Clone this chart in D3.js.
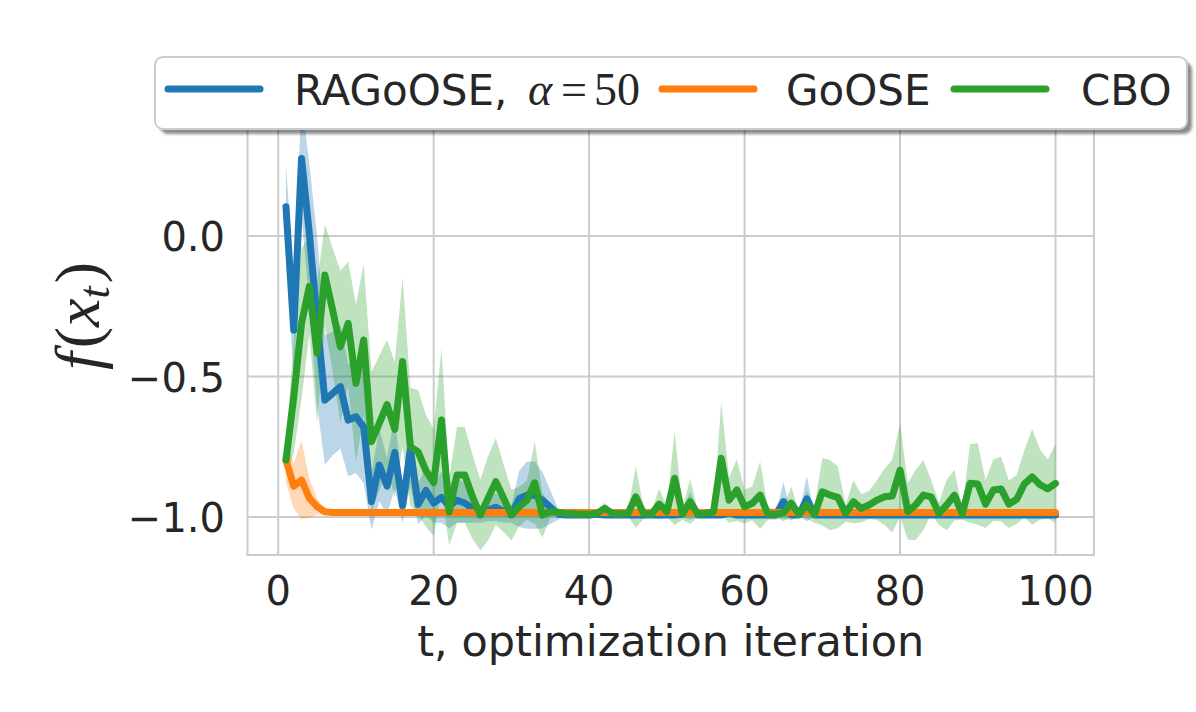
<!DOCTYPE html>
<html>
<head>
<meta charset="utf-8">
<script src="https://cdn.jsdelivr.net/npm/d3@7"></script>
<style>
    body { margin: 0; background: #fff; }
    text { font-family: 'DejaVu Sans', sans-serif; fill: #262626; }
    .math { font-family: 'Liberation Serif', serif; }
</style>
</head>
<body>
<div id="chart"></div>
<script>
const iterations = d3.range(1, 101)

const ragooseMean = [
    0.104, -0.335, 0.276, 0.01, -0.3, -0.584, -0.56, -0.536, -0.655, -0.643,
    -0.68, -0.945, -0.815, -0.89, -0.77, -0.96, -0.76, -0.955, -0.905, -0.95,
    -0.93, -0.96, -0.94, -0.95, -0.97, -0.99, -0.975, -0.965, -0.98, -0.99,
    -0.935, -0.922, -0.922, -0.94, -0.965, -0.99, -0.993, -0.993, -0.993, -0.993,
    -0.99, -0.993, -0.993, -0.993, -0.993, -0.993, -0.993, -0.993, -0.993, -0.993,
    -0.993, -0.99, -0.96, -0.993, -0.993, -0.993, -0.993, -0.985, -0.993, -0.993,
    -0.993, -0.993, -0.993, -0.993, -0.945, -0.993, -0.993, -0.935, -0.993, -0.993,
    -0.993, -0.993, -0.993, -0.993, -0.993, -0.993, -0.993, -0.993, -0.993, -0.993,
    -0.993, -0.993, -0.993, -0.993, -0.993, -0.993, -0.993, -0.993, -0.993, -0.993,
    -0.993, -0.993, -0.993, -0.993, -0.993, -0.993, -0.993, -0.993, -0.993, -0.993
]
const ragooseSpread = [
    0.15, 0.18, 0.2, 0.25, 0.3, 0.23, 0.22, 0.22, 0.2, 0.2,
    0.2, 0.1, 0.13, 0.1, 0.13, 0.06, 0.13, 0.07, 0.09, 0.07,
    0.09, 0.08, 0.08, 0.07, 0.05, 0.03, 0.04, 0.05, 0.04, 0.03,
    0.1, 0.12, 0.12, 0.1, 0.06, 0.02, 0.005, 0.005, 0.005, 0.005,
    0.01, 0.005, 0.005, 0.005, 0.005, 0.005, 0.005, 0.005, 0.005, 0.005,
    0.005, 0.01, 0.05, 0.005, 0.005, 0.005, 0.005, 0.01, 0.005, 0.005,
    0.005, 0.005, 0.005, 0.005, 0.07, 0.005, 0.005, 0.08, 0.005, 0.005,
    0.005, 0.005, 0.005, 0.005, 0.005, 0.005, 0.005, 0.005, 0.005, 0.005,
    0.005, 0.005, 0.005, 0.005, 0.005, 0.005, 0.005, 0.005, 0.005, 0.005,
    0.005, 0.005, 0.005, 0.005, 0.005, 0.005, 0.005, 0.005, 0.005, 0.005
]

const gooseMean = [
    -0.797, -0.89, -0.868, -0.933, -0.963, -0.981, -0.984, -0.984, -0.984, -0.984,
    -0.984, -0.984, -0.984, -0.984, -0.984, -0.984, -0.984, -0.984, -0.984, -0.984,
    -0.984, -0.984, -0.984, -0.984, -0.984, -0.984, -0.984, -0.984, -0.984, -0.984,
    -0.984, -0.984, -0.984, -0.984, -0.984, -0.984, -0.984, -0.984, -0.984, -0.984,
    -0.984, -0.984, -0.984, -0.984, -0.984, -0.984, -0.984, -0.984, -0.984, -0.984,
    -0.984, -0.984, -0.984, -0.984, -0.984, -0.984, -0.984, -0.984, -0.984, -0.984,
    -0.984, -0.984, -0.984, -0.984, -0.984, -0.984, -0.984, -0.984, -0.984, -0.984,
    -0.984, -0.984, -0.984, -0.984, -0.984, -0.984, -0.984, -0.984, -0.984, -0.984,
    -0.984, -0.984, -0.984, -0.984, -0.984, -0.984, -0.984, -0.984, -0.984, -0.984,
    -0.984, -0.984, -0.984, -0.984, -0.984, -0.984, -0.984, -0.984, -0.984, -0.984
]
const gooseSpread = [
    0.08, 0.08, 0.14, 0.07, 0.03, 0.01, 0.004, 0.004, 0.004, 0.004,
    0.004, 0.004, 0.004, 0.004, 0.004, 0.004, 0.004, 0.004, 0.004, 0.004,
    0.004, 0.004, 0.004, 0.004, 0.004, 0.004, 0.004, 0.004, 0.004, 0.004,
    0.004, 0.004, 0.004, 0.004, 0.004, 0.004, 0.004, 0.004, 0.004, 0.004,
    0.004, 0.004, 0.004, 0.004, 0.004, 0.004, 0.004, 0.004, 0.004, 0.004,
    0.004, 0.004, 0.004, 0.004, 0.004, 0.004, 0.004, 0.004, 0.004, 0.004,
    0.004, 0.004, 0.004, 0.004, 0.004, 0.004, 0.004, 0.004, 0.004, 0.004,
    0.004, 0.004, 0.004, 0.004, 0.004, 0.004, 0.004, 0.004, 0.004, 0.004,
    0.004, 0.004, 0.004, 0.004, 0.004, 0.004, 0.004, 0.004, 0.004, 0.004,
    0.004, 0.004, 0.004, 0.004, 0.004, 0.004, 0.004, 0.004, 0.004, 0.004
]

const cboMean = [
    -0.797, -0.572, -0.311, -0.18, -0.417, -0.139, -0.263, -0.394, -0.311, -0.524,
    -0.37, -0.732, -0.667, -0.6, -0.688, -0.447, -0.75, -0.768, -0.835, -0.877,
    -0.655, -0.981, -0.85, -0.85, -0.928, -0.993, -0.933, -0.874, -0.933, -0.993,
    -0.963, -0.94, -0.878, -0.993, -0.981, -0.983, -0.987, -0.988, -0.99, -0.99,
    -0.987, -0.969, -0.987, -0.988, -0.987, -0.928, -0.987, -0.99, -0.954, -0.981,
    -0.862, -0.99, -0.945, -0.99, -0.987, -0.981, -0.791, -0.94, -0.904, -0.963,
    -0.951, -0.922, -0.99, -0.99, -0.985, -0.951, -0.99, -0.957, -0.99, -0.91,
    -0.922, -0.93, -0.987, -0.945, -0.969, -0.957, -0.94, -0.928, -0.925, -0.833,
    -0.981, -0.957, -0.922, -0.928, -0.987, -0.957, -0.922, -0.99, -0.88, -0.882,
    -0.954, -0.904, -0.9, -0.954, -0.937, -0.882, -0.857, -0.885, -0.9, -0.88
]
const cboSpread = [
    0.05, 0.2, 0.27, 0.17, 0.25, 0.18, 0.22, 0.27, 0.22, 0.28,
    0.27, 0.25, 0.24, 0.23, 0.24, 0.3, 0.21, 0.22, 0.2, 0.19,
    0.255, 0.12, 0.17, 0.17, 0.15, 0.125, 0.15, 0.154, 0.12, 0.09,
    0.07, 0.07, 0.146, 0.08, 0.02, 0.01, 0.01, 0.01, 0.01, 0.01,
    0.01, 0.02, 0.01, 0.01, 0.01, 0.11, 0.02, 0.01, 0.055, 0.02,
    0.166, 0.02, 0.08, 0.01, 0.01, 0.01, 0.2, 0.08, 0.11, 0.06,
    0.06, 0.12, 0.02, 0.02, 0.02, 0.06, 0.01, 0.05, 0.03, 0.12,
    0.125, 0.11, 0.03, 0.077, 0.05, 0.05, 0.07, 0.1, 0.13, 0.166,
    0.1, 0.125, 0.125, 0.06, 0.04, 0.09, 0.09, 0.02, 0.14, 0.145,
    0.085, 0.11, 0.115, 0.085, 0.087, 0.12, 0.17, 0.125, 0.105, 0.14
]

const xTicks = [0, 20, 40, 60, 80, 100]
const yTicks = [-1.0, -0.5, 0.0]

drawChart()
function drawChart() {
    const dim = {
        width: 1196,
        height: 712,
        left: 247.5,
        right: 1094,
        top: 80,
        bottom: 555
    }

    const series = [
        { name: 'ragoose', mean: ragooseMean, spread: ragooseSpread, color: '#1f77b4' },
        { name: 'goose', mean: gooseMean, spread: gooseSpread, color: '#ff7f0e' },
        { name: 'cbo', mean: cboMean, spread: cboSpread, color: '#2ca02c' }
    ]

    const wrapper = d3.select('#chart')
        .append('svg')
        .attr('width', dim.width)
        .attr('height', dim.height)
    wrapper.append('rect')
        .attr('width', dim.width).attr('height', dim.height)
        .attr('fill', '#fff')

    const xScale = d3.scaleLinear()
        .domain([-3.95, 104.95])
        .range([dim.left, dim.right])
    const yScale = d3.scaleLinear()
        .domain([-1.135, 0.555])
        .range([dim.bottom, dim.top])

    // grid
    const grid = wrapper.append('g')
    grid.selectAll('.vgrid').data(xTicks)
        .join('line').attr('class', 'vgrid')
        .attr('x1', d => xScale(d)).attr('x2', d => xScale(d))
        .attr('y1', dim.top).attr('y2', dim.bottom)
        .attr('stroke', '#cccccc').attr('stroke-width', 2)
    grid.selectAll('.hgrid').data(yTicks)
        .join('line').attr('class', 'hgrid')
        .attr('x1', dim.left).attr('x2', dim.right)
        .attr('y1', d => yScale(d)).attr('y2', d => yScale(d))
        .attr('stroke', '#cccccc').attr('stroke-width', 2)

    const area = d3.area()
        .x((d, i) => xScale(iterations[i]))
        .y0(d => yScale(d[0] - d[1]))
        .y1(d => yScale(d[0] + d[1]))
    const line = d3.line()
        .x((d, i) => xScale(iterations[i]))
        .y(d => yScale(d))

    const bands = wrapper.append('g')
    bands.selectAll('path').data(series)
        .join('path')
        .attr('d', s => area(s.mean.map((m, i) => [m, s.spread[i]])))
        .attr('fill', s => s.color)
        .attr('fill-opacity', 0.3)

    const lines = wrapper.append('g')
    lines.selectAll('path').data(series)
        .join('path')
        .attr('d', s => line(s.mean))
        .attr('fill', 'none')
        .attr('stroke', s => s.color)
        .attr('stroke-width', 7)
        .attr('stroke-linejoin', 'round')
        .attr('stroke-linecap', 'round')

    // frame
    wrapper.append('rect')
        .attr('x', dim.left).attr('y', dim.top)
        .attr('width', dim.right - dim.left)
        .attr('height', dim.bottom - dim.top)
        .attr('fill', 'none')
        .attr('stroke', '#cccccc').attr('stroke-width', 2)

    // tick labels
    wrapper.append('g').selectAll('text').data(xTicks)
        .join('text')
        .attr('x', d => xScale(d)).attr('y', 605)
        .attr('text-anchor', 'middle')
        .style('font-size', '40px')
        .text(d => d)
    wrapper.append('g').selectAll('text').data(yTicks)
        .join('text')
        .attr('x', 225).attr('y', d => yScale(d) + 15)
        .attr('text-anchor', 'end')
        .style('font-size', '40px')
        .text(d => d3.format('.1f')(d).replace('-', '\u2212'))

    wrapper.append('text')
        .attr('x', (dim.left + dim.right) / 2).attr('y', 656)
        .attr('text-anchor', 'middle')
        .style('font-size', '43px')
        .text('t, optimization iteration')

    const yLabel = wrapper.append('text')
        .attr('class', 'math')
        .attr('transform', 'translate(99, 316) rotate(-90)')
        .attr('text-anchor', 'middle')
        .style('font-size', '64px')
    yLabel.append('tspan').style('font-style', 'italic').text('f')
    yLabel.append('tspan').attr('dx', 4).text('(')
    yLabel.append('tspan').style('font-style', 'italic').text('x')
    yLabel.append('tspan').style('font-style', 'italic')
        .style('font-size', '44px').attr('dy', 10).text('t')
    yLabel.append('tspan').attr('dy', -10).attr('dx', 3).text(')')

    // legend
    const legend = wrapper.append('g')
    const defs = wrapper.append('defs')
    defs.append('filter').attr('id', 'shadow')
        .append('feGaussianBlur').attr('stdDeviation', 1.5)
    legend.append('rect')
        .attr('x', 160).attr('y', 62)
        .attr('width', 1032).attr('height', 72).attr('rx', 8)
        .attr('fill', '#000').attr('fill-opacity', 0.45)
        .attr('filter', 'url(#shadow)')
    legend.append('rect')
        .attr('x', 155).attr('y', 57)
        .attr('width', 1032).attr('height', 72).attr('rx', 8)
        .attr('fill', '#fff')
        .attr('stroke', '#cccccc').attr('stroke-width', 2)

    const handleX = [168, 662, 954]
    const labelX = [294, 786, 1081]
    const legendY = 89
    legend.selectAll('.handle').data(series)
        .join('line').attr('class', 'handle')
        .attr('x1', (d, i) => handleX[i]).attr('x2', (d, i) => handleX[i] + 92)
        .attr('y1', legendY).attr('y2', legendY)
        .attr('stroke', d => d.color)
        .attr('stroke-width', 7)
        .attr('stroke-linecap', 'round')

    const labels = ['RAGoOSE,', 'GoOSE', 'CBO']
    legend.selectAll('.label').data(labels)
        .join('text').attr('class', 'label')
        .attr('x', (d, i) => labelX[i]).attr('y', 105)
        .style('font-size', '42px')
        .text(d => d)

    const alpha = legend.append('text')
        .attr('class', 'math')
        .attr('x', 528).attr('y', 105)
        .style('font-size', '46px')
    alpha.append('tspan').style('font-style', 'italic').text('\u03b1')
    alpha.append('tspan').attr('x', 561).text('=')
    alpha.append('tspan').attr('x', 594).text('50')
}
</script>
</body>
</html>
